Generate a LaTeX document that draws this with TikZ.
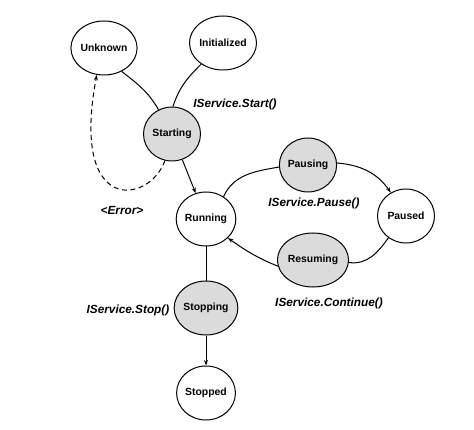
\documentclass[tikz,border=0pt]{standalone}
\usepackage{fontspec}
\setmainfont{Liberation Sans}
\usetikzlibrary{arrows.meta,shapes.geometric}
\tikzset{
  st/.style={draw,ellipse,minimum width=57pt,minimum height=54pt,inner sep=0pt,
    line width=1pt,fill=white,font=\fontsize{10.4}{12}\selectfont\bfseries},
  busy/.style={st,fill=black!14},
  call/.style={font=\fontsize{11.8}{14}\selectfont\bfseries\itshape},
  link/.style={line width=1pt},
  trans/.style={link,-{Stealth[length=5.5pt,width=4pt]}},
  err/.style={trans,dash pattern=on 5pt off 3.5pt}
}
\begin{document}
\begin{tikzpicture}[x=1pt,y=1pt]
\useasboundingbox (0,0) rectangle (474,429);
%states
\node[st] (unknown) at (104,381){Unknown};
\node[st] (init) at (223,386){Initialized};
\node[busy] (starting) at (172,295){Starting};
\node[st] (running) at (206,210){Running};
\node[busy] (pausing) at (308,264){Pausing};
\node[st] (paused) at (406,213){Paused};
\node[busy] (resuming) at (313,169){Resuming};
\node[busy] (stopping) at (206,121){Stopping};
\node[st] (stopped) at (206,36){Stopped};
%calls
\node[call] (lstart) at (235,325){IService.Start()};
\node[call] (lerror) at (122,219){<Error>};
\node[call] (lpause) at (314,226){IService.Pause()};
\node[call] (lcont) at (329,126){IService.Continue()};
\node[call] (lstop) at (128,119){IService.Stop()};
%start
\draw[link] (unknown.-53) to[out=-38,in=120] (starting.119);
\draw[link] (init.224) to[out=225,in=72] (starting.88);
\draw[trans] (starting) -- (running);
\draw[err] (starting.255) .. controls +(-15,-43) and +(-27,-142) .. (unknown.255);
%pause and continue
\draw[link] (running.52) to[out=65,in=190] (pausing.184);
\draw[trans] (pausing.4) to[out=-5,in=125] (paused.123);
\draw[link] (paused.231) to[out=235,in=-8] (resuming.-4);
\draw[trans] (resuming.190) to[out=158,in=-35] (running.-41);
%stop
\draw[link] (running) -- (stopping);
\draw[trans] (stopping) -- (stopped);
\end{tikzpicture}
\end{document}
